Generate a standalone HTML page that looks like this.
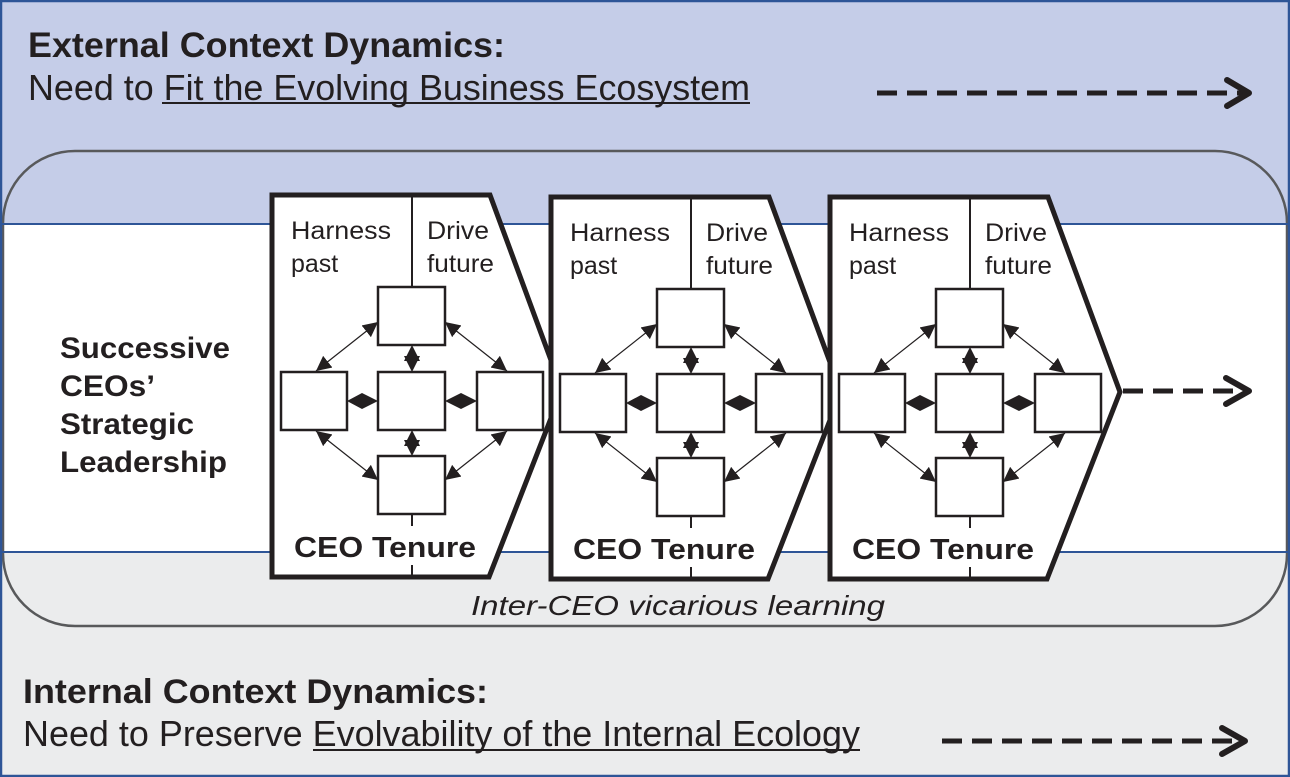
<!DOCTYPE html>
<html><head><meta charset="utf-8"><style>
html,body{margin:0;padding:0;background:#fff}
svg{display:block}
text{font-family:"Liberation Sans",Arial,sans-serif;fill:#231f20}
</style></head><body>
<svg width="1290" height="777" viewBox="0 0 1290 777" xmlns="http://www.w3.org/2000/svg">
<defs>
<marker id="ah" viewBox="0 0 10 10" refX="10" refY="5" markerWidth="15" markerHeight="15" markerUnits="userSpaceOnUse" orient="auto-start-reverse">
<path d="M0,0 L10,5 L0,10 z" fill="#231f20"/>
</marker>
<g id="frame">
<polygon points="0,0 218,0 290,195 217,382 0,382" fill="#fff" stroke="#231f20" stroke-width="5" stroke-linejoin="miter"/>
<line x1="140" y1="0" x2="140" y2="92" stroke="#231f20" stroke-width="2"/>
<line x1="140" y1="319" x2="140" y2="331" stroke="#231f20" stroke-width="2"/>
<line x1="140" y1="370" x2="140" y2="382" stroke="#231f20" stroke-width="2"/>
<text x="19" y="44" font-size="25" textLength="100" lengthAdjust="spacingAndGlyphs">Harness</text>
<text x="19" y="77" font-size="25">past</text>
<text x="155" y="44" font-size="25" textLength="62" lengthAdjust="spacingAndGlyphs">Drive</text>
<text x="155" y="77" font-size="25" textLength="67" lengthAdjust="spacingAndGlyphs">future</text>
<rect x="106" y="92" width="67" height="58" fill="#fff" stroke="#231f20" stroke-width="2.5"/>
<rect x="106" y="177" width="67" height="58" fill="#fff" stroke="#231f20" stroke-width="2.5"/>
<rect x="9" y="177" width="66" height="58" fill="#fff" stroke="#231f20" stroke-width="2.5"/>
<rect x="205" y="177" width="66" height="58" fill="#fff" stroke="#231f20" stroke-width="2.5"/>
<rect x="106" y="261" width="67" height="58" fill="#fff" stroke="#231f20" stroke-width="2.5"/>
<g stroke="#231f20" stroke-width="1.2" marker-start="url(#ah)" marker-end="url(#ah)">
<line x1="106" y1="127" x2="44" y2="176"/>
<line x1="173" y1="127" x2="235" y2="176"/>
<line x1="44" y1="236" x2="106" y2="285"/>
<line x1="235" y1="236" x2="173" y2="285"/>
</g>
<g fill="#231f20">
<polygon points="75,206 90,198 106,206 90,214"/>
<polygon points="173,206 189,198 205,206 189,214"/>
<polygon points="140,150 132,166 148,166"/><polygon points="140,177 132,161 148,161"/>
<polygon points="140,235 132,251 148,251"/><polygon points="140,261 132,245 148,245"/>
</g>
<text x="113" y="362" font-size="29" font-weight="bold" text-anchor="middle" textLength="182" lengthAdjust="spacingAndGlyphs">CEO Tenure</text>
</g>
</defs>
<rect x="0" y="0" width="1290" height="224" fill="#c5cde8"/>
<rect x="0" y="224" width="1290" height="328" fill="#fff"/>
<rect x="0" y="552" width="1290" height="225" fill="#ebeced"/>
<rect x="3" y="151" width="1284" height="475" rx="72" ry="72" fill="none" stroke="#58595b" stroke-width="2.5"/>
<line x1="0" y1="224" x2="1290" y2="224" stroke="#2e5597" stroke-width="2"/>
<line x1="0" y1="552" x2="1290" y2="552" stroke="#2e5597" stroke-width="2"/>
<rect x="1" y="1" width="1288" height="775" fill="none" stroke="#2e5597" stroke-width="2.5"/>

<text x="28" y="57" font-size="35" font-weight="bold" textLength="477" lengthAdjust="spacingAndGlyphs">External Context Dynamics:</text>
<text x="28" y="100" font-size="36" textLength="722" lengthAdjust="spacingAndGlyphs">Need to Fit the Evolving Business Ecosystem</text>
<line x1="162" y1="103" x2="750" y2="103" stroke="#231f20" stroke-width="2"/>

<text x="23" y="703" font-size="34" font-weight="bold" textLength="465" lengthAdjust="spacingAndGlyphs">Internal Context Dynamics:</text>
<text x="23" y="746" font-size="36" textLength="837" lengthAdjust="spacingAndGlyphs">Need to Preserve Evolvability of the Internal Ecology</text>
<line x1="313" y1="750" x2="860" y2="750" stroke="#231f20" stroke-width="2"/>

<text x="471" y="615" font-size="28" font-style="italic" textLength="414" lengthAdjust="spacingAndGlyphs">Inter-CEO vicarious learning</text>

<g font-size="30" font-weight="bold">
<text x="60" y="358" textLength="170" lengthAdjust="spacingAndGlyphs">Successive</text>
<text x="60" y="396" textLength="95" lengthAdjust="spacingAndGlyphs">CEOs’</text>
<text x="60" y="434" textLength="134" lengthAdjust="spacingAndGlyphs">Strategic</text>
<text x="60" y="472" textLength="167" lengthAdjust="spacingAndGlyphs">Leadership</text>
</g>

<use href="#frame" x="272" y="195"/>
<use href="#frame" x="551" y="197"/>
<use href="#frame" x="830" y="197"/>

<g stroke="#231f20" stroke-width="5" fill="none" stroke-linecap="round" stroke-linejoin="round">
<line x1="877" y1="93" x2="1244" y2="93" stroke-dasharray="20,10" stroke-linecap="butt"/>
<polyline points="1227,80 1249,93 1227,106" stroke-width="6"/>
<line x1="1123" y1="391" x2="1244" y2="391" stroke-dasharray="20,10" stroke-linecap="butt"/>
<polyline points="1226,378 1249,391 1226,404" stroke-width="6"/>
<line x1="942" y1="741" x2="1240" y2="741" stroke-dasharray="20,10" stroke-linecap="butt"/>
<polyline points="1222,728 1245,741 1222,754" stroke-width="6"/>
</g>
</svg>
</body></html>
